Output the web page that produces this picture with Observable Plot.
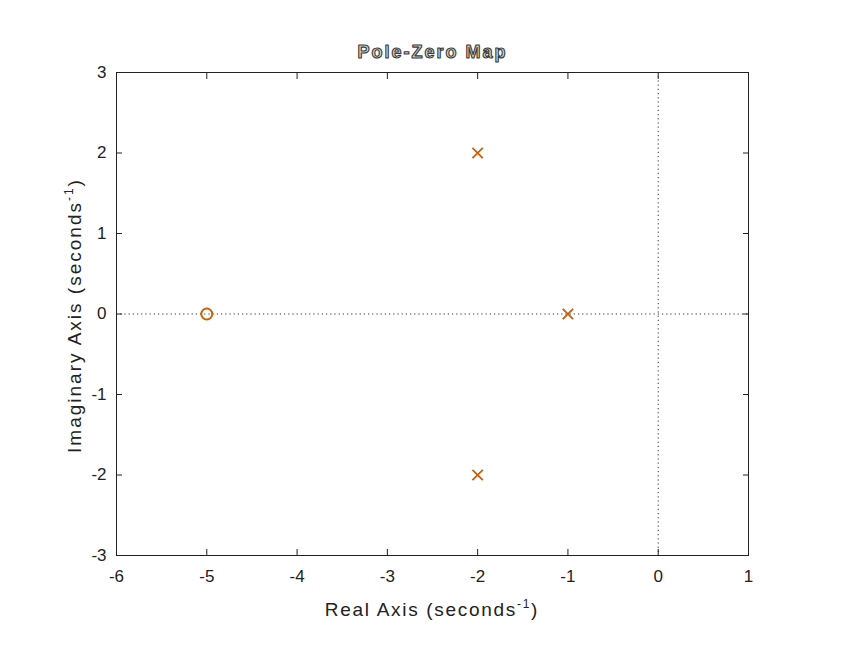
<!DOCTYPE html>
<html><head><meta charset="utf-8">
<script src="https://cdn.jsdelivr.net/npm/d3@7"></script>
<script src="https://cdn.jsdelivr.net/npm/@observablehq/plot@0.6"></script>
<style>body{margin:0;background:#fff;font-family:"Liberation Sans",Arial,sans-serif}</style>
</head><body><div id="chart"></div>
<script>
const zerosRe = [-5];
const zerosIm = [0];
const polesRe = [-2, -2, -1];
const polesIm = [2, -2, 0];
const xTicks = [-6, -5, -4, -3, -2, -1, 0, 1];
const yTicks = [-3, -2, -1, 0, 1, 2, 3];
const titleText = "Pole-Zero Map";
const xLabel = ["Real Axis (seconds", "-1", ")"];
const yLabel = ["Imaginary Axis (seconds", "-1", ")"];

const zeros = zerosRe.map((re, i) => ({re, im: zerosIm[i]}));
const poles = polesRe.map((re, i) => ({re, im: polesIm[i]}));
const color = "#c4620c";
const fmt = d => String(d);

const plot = Plot.plot({
  width: 850, height: 672,
  marginLeft: 116, marginRight: 102, marginTop: 72, marginBottom: 117,
  style: {fontFamily: "Liberation Sans, Arial, sans-serif", background: "#fff", color: "#222"},
  x: {domain: [-6, 1]},
  y: {domain: [-3, 3]},
  marks: [
    Plot.ruleY([0], {stroke: "#333", strokeDasharray: "1.2,3"}),
    Plot.ruleX([0], {stroke: "#333", strokeDasharray: "1.2,3"}),
    Plot.frame({stroke: "#222", strokeWidth: 1}),
    Plot.axisX(xTicks, {anchor: "bottom", tickSize: -6, tickPadding: 20, tickFormat: fmt, fontSize: 17, label: null}),
    Plot.axisX(xTicks, {anchor: "top", tickSize: -6, tickFormat: () => "", label: null}),
    Plot.axisY(yTicks, {anchor: "left", tickSize: -6, tickPadding: 16, tickFormat: fmt, fontSize: 17, label: null}),
    Plot.axisY(yTicks, {anchor: "right", tickSize: -6, tickFormat: () => "", label: null}),
    Plot.dot(zeros, {x: "re", y: "im", symbol: "circle", r: 5.5, stroke: color, strokeWidth: 2, fill: "none"}),
    Plot.dot(poles, {x: "re", y: "im", symbol: "times", r: 4.8, stroke: color, strokeWidth: 1.8}),
    Plot.text([titleText], {frameAnchor: "top", dy: -27, text: d => d, fontSize: 18, fontWeight: "bold", fill: "#d4d4d4", stroke: "#3a3a3a", strokeWidth: 1.1, paintOrder: "fill", className: "ptitle"})
  ]
});
document.getElementById("chart").appendChild(plot);

const svg = d3.select(plot);
svg.selectAll(".ptitle text").attr("letter-spacing", 2);

const xl = svg.append("text")
  .attr("x", (116 + 748) / 2).attr("y", 616)
  .attr("text-anchor", "middle").attr("font-size", 19).attr("letter-spacing", 1.7).attr("fill", "#222");
xl.append("tspan").text(xLabel[0]);
xl.append("tspan").attr("font-size", 12).attr("dy", -8).text(xLabel[1]);
xl.append("tspan").attr("dy", 8).text(xLabel[2]);

const yl = svg.append("text")
  .attr("transform", `translate(81,${(72 + 555) / 2 + 2}) rotate(-90)`)
  .attr("text-anchor", "middle").attr("font-size", 19).attr("letter-spacing", 2).attr("fill", "#222");
yl.append("tspan").text(yLabel[0]);
yl.append("tspan").attr("font-size", 12).attr("dy", -8).text(yLabel[1]);
yl.append("tspan").attr("dy", 8).text(yLabel[2]);
</script></body></html>
